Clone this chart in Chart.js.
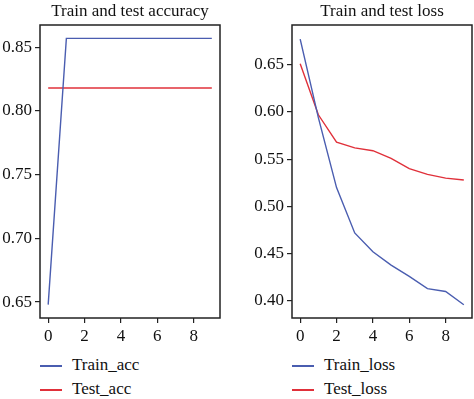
<!DOCTYPE html>
<html>
<head>
<meta charset="utf-8">
<script src="https://cdn.jsdelivr.net/npm/chart.js@4.4.1/dist/chart.umd.min.js"></script>
<style>
  body { margin: 0; background: #fff; width: 474px; height: 399px; overflow: hidden; position: relative; font-family: "Liberation Serif", serif; }
  canvas { position: absolute; top: 0; }
  .ttl { position: absolute; top: 1px; font-size: 17px; color: #111; text-align: center; line-height: 20px; white-space: nowrap; }
  .leg { position: absolute; font-size: 17px; color: #111; line-height: 20px; height: 20px; white-space: nowrap; padding-left: 32px; }
  .leg i { position: absolute; left: 0; top: 10px; width: 22px; height: 1.5px; }
</style>
</head>
<body>
<canvas id="accChart" width="237" height="345" style="left:0"></canvas>
<canvas id="lossChart" width="237" height="345" style="left:237px"></canvas>
<div class="ttl" style="left:40px;width:180px">Train and test accuracy</div>
<div class="ttl" style="left:292px;width:180px">Train and test loss</div>
<div class="leg" style="left:40px;top:355px"><i style="background:#4a5db0"></i>Train_acc</div>
<div class="leg" style="left:40px;top:379px"><i style="background:#e0303a"></i>Test_acc</div>
<div class="leg" style="left:292px;top:355px"><i style="background:#4a5db0"></i>Train_loss</div>
<div class="leg" style="left:292px;top:379px"><i style="background:#e0303a"></i>Test_loss</div>
<script>
const epochs = [0, 1, 2, 3, 4, 5, 6, 7, 8, 9];
const trainAcc = [0.648, 0.857, 0.857, 0.857, 0.857, 0.857, 0.857, 0.857, 0.857, 0.857];
const testAcc = [0.818, 0.818, 0.818, 0.818, 0.818, 0.818, 0.818, 0.818, 0.818, 0.818];
const trainLoss = [0.677, 0.594, 0.520, 0.472, 0.452, 0.438, 0.426, 0.413, 0.410, 0.396];
const testLoss = [0.651, 0.597, 0.568, 0.562, 0.559, 0.551, 0.540, 0.534, 0.530, 0.528];
const xTicks = [0, 2, 4, 6, 8];
const accTicks = [0.65, 0.70, 0.75, 0.80, 0.85];
const lossTicks = [0.40, 0.45, 0.50, 0.55, 0.60, 0.65];

const BLUE = '#4a5db0';
const RED = '#e0303a';
const FONT = { family: '"Liberation Serif", serif', size: 17 };

const framePlugin = {
    id: 'frame',
    afterDraw(chart) {
        const a = chart.chartArea;
        const ctx = chart.ctx;
        ctx.save();
        ctx.strokeStyle = '#222';
        ctx.lineWidth = 1.5;
        ctx.strokeRect(a.left, a.top, a.right - a.left, a.bottom - a.top);
        ctx.restore();
    }
};

function points(ys) {
    return epochs.map((x, i) => ({ x: x, y: ys[i] }));
}

function makeChart(id, series, yMin, yMax, yTicks, yWidth, padRight) {
    const ctx = document.getElementById(id).getContext('2d');
    return new Chart(ctx, {
        type: 'line',
        data: {
            datasets: series.map(s => ({
                label: s.label,
                data: points(s.data),
                borderColor: s.color,
                borderWidth: 1.4,
                pointRadius: 0,
                tension: 0,
                fill: false
            }))
        },
        options: {
            responsive: false,
            animation: false,
            layout: { padding: { left: 0, right: padRight, top: 25, bottom: 0 } },
            plugins: {
                legend: { display: false },
                tooltip: { enabled: false },
                title: { display: false }
            },
            scales: {
                x: {
                    type: 'linear',
                    min: -0.45,
                    max: 9.45,
                    afterBuildTicks: sc => { sc.ticks = xTicks.map(v => ({ value: v })); },
                    afterFit: sc => { sc.height = 27; },
                    border: { display: false },
                    grid: { drawOnChartArea: false, drawTicks: true, tickLength: 5, color: '#222', lineWidth: 1.2 },
                    ticks: { color: '#111', font: FONT, padding: 3, maxRotation: 0 }
                },
                y: {
                    min: yMin,
                    max: yMax,
                    afterBuildTicks: sc => { sc.ticks = yTicks.map(v => ({ value: v })); },
                    afterFit: sc => { sc.width = yWidth; },
                    border: { display: false },
                    grid: { drawOnChartArea: false, drawTicks: true, tickLength: 5, color: '#222', lineWidth: 1.2 },
                    ticks: { color: '#111', font: FONT, padding: 3, callback: v => v.toFixed(2) }
                }
            }
        },
        plugins: [framePlugin]
    });
}

makeChart('accChart', [
    { label: 'Train_acc', data: trainAcc, color: BLUE },
    { label: 'Test_acc', data: testAcc, color: RED }
], 0.6375, 0.8675, accTicks, 40, 17);

makeChart('lossChart', [
    { label: 'Train_loss', data: trainLoss, color: BLUE },
    { label: 'Test_loss', data: testLoss, color: RED }
], 0.382, 0.692, lossTicks, 55, 2);
</script>
</body>
</html>
